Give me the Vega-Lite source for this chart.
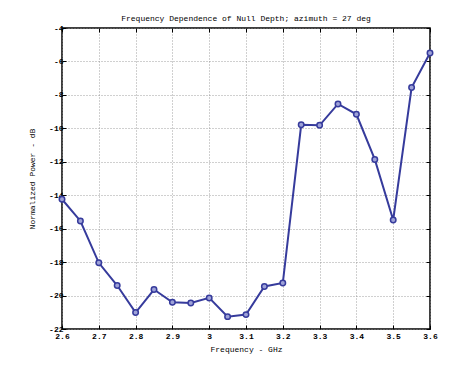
{
  "$schema": "https://vega.github.io/schema/vega-lite/v6.json",
  "autosize": {"type": "none"},
  "width": 368,
  "height": 301,
  "padding": {"left": 62, "top": 28, "right": 44, "bottom": 40},
  "background": "white",
  "title": {"text": "Frequency Dependence of Null Depth; azimuth = 27 deg", "font": "Liberation Mono", "fontSize": 8, "fontWeight": "normal", "color": "black", "offset": 1},
  "data": {"values": [
    {"f": 2.6, "p": -14.24},
    {"f": 2.65, "p": -15.54},
    {"f": 2.7, "p": -18.04},
    {"f": 2.75, "p": -19.4},
    {"f": 2.8, "p": -21.02},
    {"f": 2.85, "p": -19.64},
    {"f": 2.9, "p": -20.4},
    {"f": 2.95, "p": -20.45},
    {"f": 3.0, "p": -20.14},
    {"f": 3.05, "p": -21.26},
    {"f": 3.1, "p": -21.14},
    {"f": 3.15, "p": -19.46},
    {"f": 3.2, "p": -19.25},
    {"f": 3.25, "p": -9.79},
    {"f": 3.3, "p": -9.82},
    {"f": 3.35, "p": -8.54},
    {"f": 3.4, "p": -9.16},
    {"f": 3.45, "p": -11.86},
    {"f": 3.5, "p": -15.48},
    {"f": 3.55, "p": -7.56},
    {"f": 3.6, "p": -5.5}
  ]},
  "config": {
    "view": {"stroke": "black", "strokeWidth": 1.5},
    "axis": {
      "labelFont": "Liberation Mono", "labelFontSize": 8, "labelColor": "black", "labelFontWeight": "bold",
      "titleFont": "Liberation Mono", "titleFontSize": 8, "titleColor": "black", "titleFontWeight": "normal",
      "domain": false, "tickColor": "black", "tickSize": -4, "tickWidth": 1,
      "gridColor": "#888888", "gridDash": [1, 2], "gridWidth": 0.8
    }
  },
  "layer": [
    {
      "mark": {"type": "line", "color": "#363b9c", "strokeWidth": 2},
      "encoding": {
        "x": {"field": "f", "type": "quantitative", "scale": {"domain": [2.6, 3.6], "nice": false, "zero": false},
              "axis": {"title": "Frequency - GHz", "values": [2.6, 2.7, 2.8, 2.9, 3.0, 3.1, 3.2, 3.3, 3.4, 3.5, 3.6], "format": ".1~f", "labelPadding": 7, "titlePadding": 5, "labelFlush": false}},
        "y": {"field": "p", "type": "quantitative", "scale": {"domain": [-22, -4], "nice": false, "zero": false},
              "axis": {"title": "Normalized Power - dB", "values": [-22, -20, -18, -16, -14, -12, -10, -8, -6, -4], "labelExpr": "replace(datum.label, '\u2212', '-')", "labelPadding": 3, "titlePadding": 12, "labelFlush": false}}
      }
    },
    {
      "mark": {"type": "point", "shape": "circle", "size": 30, "filled": true, "fill": "#9ea2d8", "stroke": "#363b9c", "strokeWidth": 1.5, "opacity": 1},
      "encoding": {
        "x": {"field": "f", "type": "quantitative", "axis": {"orient": "top", "values": [2.6, 2.7, 2.8, 2.9, 3.0, 3.1, 3.2, 3.3, 3.4, 3.5, 3.6], "labels": false, "title": null, "grid": false}},
        "y": {"field": "p", "type": "quantitative", "axis": {"orient": "right", "values": [-22, -20, -18, -16, -14, -12, -10, -8, -6, -4], "labels": false, "title": null, "grid": false}}
      }
    }
  ],
  "resolve": {"axis": {"x": "independent", "y": "independent"}}
}
